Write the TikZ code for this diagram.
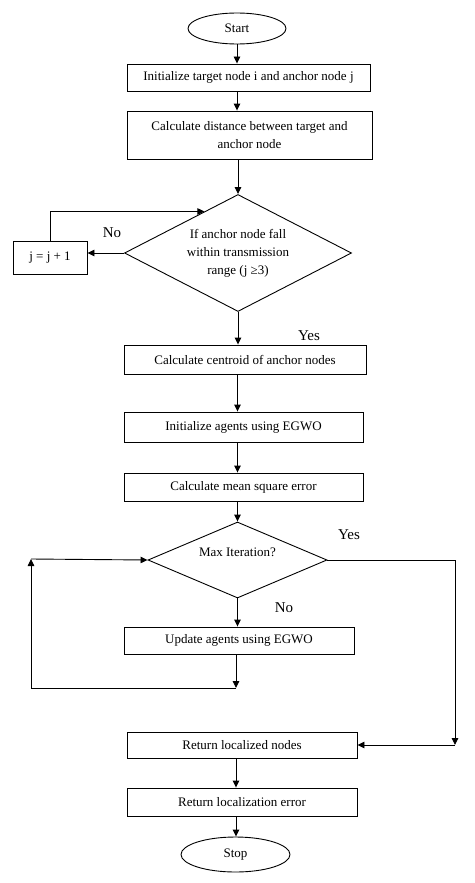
\documentclass[tikz,border=0pt]{standalone}
\usepackage{fontspec}
\setmainfont{Liberation Serif}
\usetikzlibrary{shapes.geometric,arrows.meta}
\begin{document}
\begin{tikzpicture}[x=1pt,y=-1pt,
  every node/.style={font=\fontsize{13}{18}\selectfont, inner sep=0pt},
  box/.style={draw, line width=0.9pt, rectangle, align=center},
  term/.style={draw, line width=0.9pt, ellipse},
  dec/.style={draw, line width=0.9pt, diamond, align=center},
  lbl/.style={font=\fontsize{15}{18}\selectfont},
  arr/.style={line width=0.9pt, -{Triangle[length=7pt,width=6.5pt]}},
  ln/.style={line width=0.9pt}]
\useasboundingbox (0,0) rectangle (474,883);
\coordinate (spine) at (237.5,0);
\node[term, minimum width=98pt, minimum height=31pt] (start) at (237,28.5) {Start};
\node[box, minimum width=243pt, minimum height=27pt] (init) at (248.5,77.5) {Initialize target node i and anchor node j};
\node[box, minimum width=245pt, minimum height=48pt] (dist) at (249.5,135) {Calculate distance between target and\\anchor node};
\node[dec, minimum width=227pt, minimum height=117pt, aspect=1.94] (cond) at (238,253) {If anchor node fall\\within transmission\\range (j ≥3)};
\node[box, minimum width=74pt, minimum height=33pt] (inc) at (50,257.5) {j = j + 1};
\node[lbl] (no1) at (112,233) {No};
\node[box, minimum width=242pt, minimum height=29pt] (cent) at (245,359.5) {Calculate centroid of anchor nodes};
\node[lbl] (yes1) at (309,336) {Yes};
\node[box, minimum width=239pt, minimum height=30pt] (egwo) at (243.5,427) {Initialize agents using EGWO};
\node[box, minimum width=239pt, minimum height=28pt] (mse) at (243.5,487) {Calculate mean square error};
\node[dec, minimum width=179pt, minimum height=76pt, aspect=2.36] (maxit) at (237.5,560) {Max Iteration?\\[-2pt]};
\node[lbl] (yes2) at (349,535) {Yes};
\node[box, minimum width=230pt, minimum height=27pt] (upd) at (239,640.5) {Update agents using EGWO};
\node[lbl] (no2) at (284,608) {No};
\node[box, minimum width=230pt, minimum height=26pt] (ret) at (242,745) {Return localized nodes};
\node[box, minimum width=230pt, minimum height=28pt] (err) at (242,802) {Return localization error};
\node[term, minimum width=109pt, minimum height=35pt] (stop) at (235.5,854.5) {Stop};
\coordinate (lp1) at (236,688);
\coordinate (lp2) at (31,559);
\coordinate (rp) at (455,745);
% connectors
\draw[arr] (start.south) -- (start.south |- init.north);
\draw[arr] (init.south -| start.south) -- (dist.north -| start.south);
\draw[arr] (dist.south -| cond.north) -- (cond.north);
\draw[arr] (cond.west) -- (cond.west -| inc.east);
\draw[arr] (inc.north) |- (cond.129);
\draw[arr] (cond.south) -- (cond.south |- cent.north);
\draw[arr] (cent.south -| spine) -- (egwo.north -| spine);
\draw[arr] (egwo.south -| spine) -- (mse.north -| spine);
\draw[arr] (mse.south -| maxit.north) -- (maxit.north);
\draw[arr] (maxit.south) -- (maxit.south |- upd.north);
\draw[arr] (upd.south -| lp1) -- (lp1);
\draw[arr] (lp1) -| (lp2);
\draw[arr] (lp2) -- (maxit.west);
\draw[arr] (maxit.east) -| (rp);
\draw[arr] (rp) -- (ret.east);
\draw[arr] (ret.south -| lp1) -- (err.north -| lp1);
\draw[arr] (err.south -| lp1) -- (lp1 |- stop.north);
\end{tikzpicture}
\end{document}
